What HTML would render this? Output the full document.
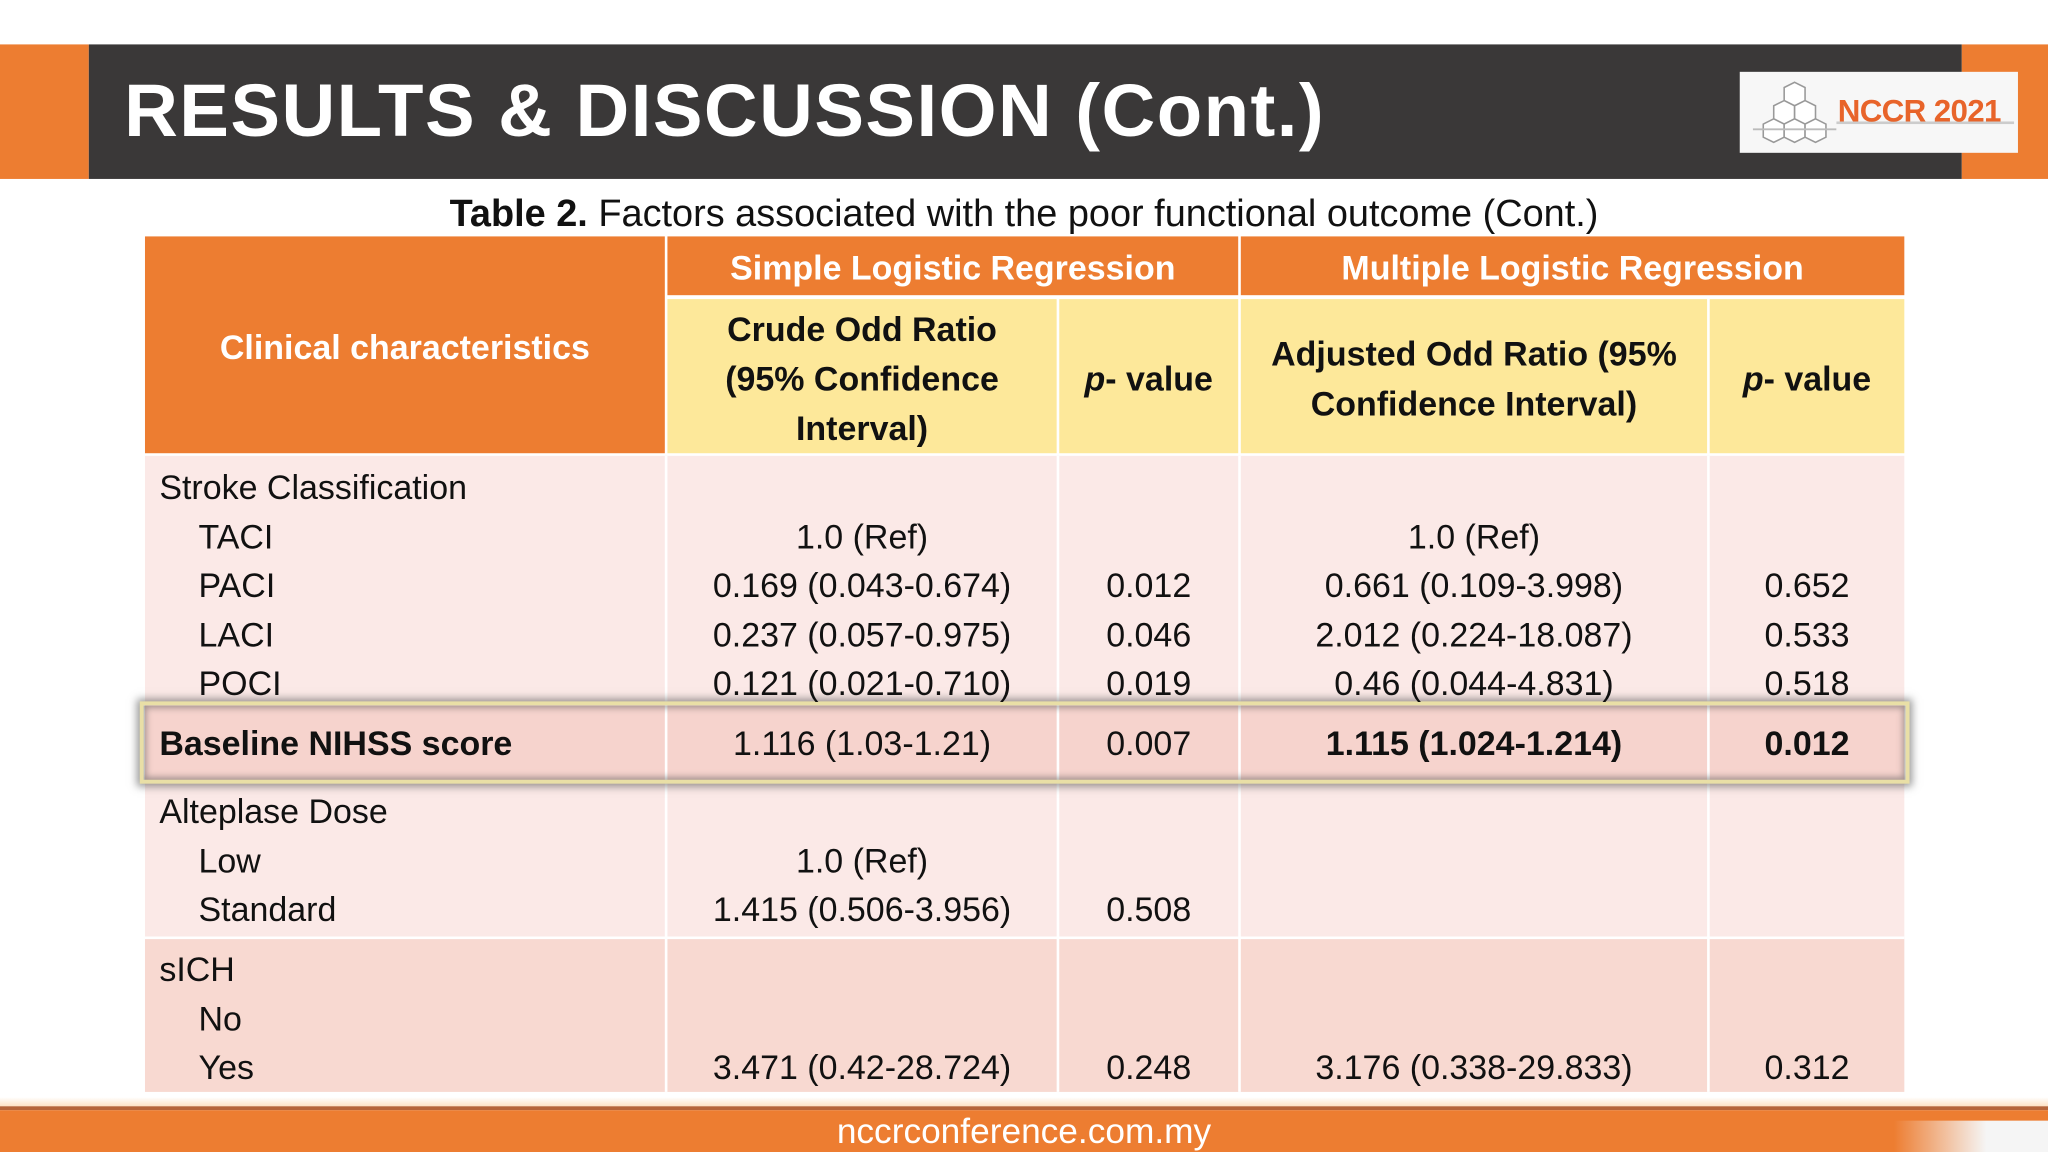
<!DOCTYPE html>
<html><head><meta charset="utf-8"><style>
html,body{margin:0;padding:0;width:2048px;height:1152px;overflow:hidden;background:#fff}
#stage{position:absolute;left:0;top:0;width:1568px;height:882px;transform:scale(1.306122);transform-origin:0 0;font-family:"Liberation Sans",sans-serif}
.a{position:absolute}
.t{position:absolute;height:30px;line-height:30px;font-size:26px;color:#111;white-space:nowrap}
.c{text-align:center}
.hw{color:#fff;font-weight:bold;font-size:26px}
.hb{color:#111;font-weight:bold;font-size:26px}
</style></head><body>
<div id="stage">
<div class="a" style="left:0;top:34px;width:68px;height:103px;background:#ed7d31"></div>
<div class="a" style="left:68px;top:34px;width:1434px;height:103px;background:#3a3838"></div>
<div class="a" style="left:1502px;top:34px;width:66px;height:103px;background:#ed7d31"></div>
<div class="t" style="left:95px;top:55px;height:60px;line-height:60px;font-size:57px;font-weight:bold;color:#fff;letter-spacing:1.1px">RESULTS &amp; DISCUSSION (Cont.)</div>
<div class="a" style="left:1332px;top:55px;width:213px;height:62px;background:#f7f7f7">
  <svg class="a" style="left:10px;top:4px" width="64" height="52"><g fill="#fff" stroke="#999" stroke-width="1.2"><polygon points="32,4 40,8 40,18 32,22 24,18 24,8"/><polygon points="24,18 32,22 32,32 24,36 16,32 16,22"/><polygon points="40,18 48,22 48,32 40,36 32,32 32,22"/><polygon points="16,32 24,36 24,46 16,50 8,46 8,36"/><polygon points="32,32 40,36 40,46 32,50 24,46 24,36"/><polygon points="48,32 56,36 56,46 48,50 40,46 40,36"/></g><line x1="0" y1="40" x2="64" y2="40" stroke="#bbb" stroke-width="1.5"/></svg>
  <div class="a" style="left:74px;top:38px;width:136px;height:2px;background:#ccc"></div>
  <div class="t" style="left:75px;top:16px;font-size:24px;font-weight:bold;color:#e8642a;letter-spacing:-0.5px">NCCR 2021</div>
</div>
<div class="t c" style="left:0;width:1568px;top:149px;font-size:29px"><b>Table 2.</b> Factors associated with the poor functional outcome (Cont.)</div>

<!-- header -->
<div class="a" style="left:111px;top:181px;width:398px;height:166px;background:#ed7d31"></div>
<div class="t c hw" style="left:111px;width:398px;top:251px">Clinical characteristics</div>
<div class="a" style="left:511px;top:181px;width:437px;height:45px;background:#ed7d31"></div>
<div class="t c hw" style="left:511px;width:437px;top:190px">Simple Logistic Regression</div>
<div class="a" style="left:950px;top:181px;width:508px;height:45px;background:#ed7d31"></div>
<div class="t c hw" style="left:950px;width:508px;top:190px">Multiple Logistic Regression</div>
<div class="a" style="left:511px;top:229px;width:298px;height:118px;background:#fde89a"></div>
<div class="a" style="left:811px;top:229px;width:137px;height:118px;background:#fde89a"></div>
<div class="a" style="left:950px;top:229px;width:357px;height:118px;background:#fde89a"></div>
<div class="a" style="left:1309px;top:229px;width:149px;height:118px;background:#fde89a"></div>
<div class="t c hb" style="left:511px;width:298px;top:237px">Crude Odd Ratio</div>
<div class="t c hb" style="left:511px;width:298px;top:275px">(95% Confidence</div>
<div class="t c hb" style="left:511px;width:298px;top:313px">Interval)</div>
<div class="t c hb" style="left:811px;width:137px;top:275px"><i>p</i>- value</div>
<div class="t c hb" style="left:950px;width:357px;top:256px">Adjusted Odd Ratio (95%</div>
<div class="t c hb" style="left:950px;width:357px;top:294px">Confidence Interval)</div>
<div class="t c hb" style="left:1309px;width:149px;top:275px"><i>p</i>- value</div>

<!-- body backgrounds -->
<div class="a" style="left:111px;top:349px;width:1347px;height:191px;background:#fbe9e7"></div>
<div class="a" style="left:111px;top:540px;width:1347px;height:60px;background:#f6d3cd"></div>
<div class="a" style="left:111px;top:600px;width:1347px;height:118px;background:#fbe9e7"></div>
<div class="a" style="left:111px;top:718px;width:1347px;height:118px;background:#f8d9d1"></div>
<div class="a" style="left:111px;top:717px;width:1347px;height:2px;background:#fff"></div>
<div class="a" style="left:509px;top:349px;width:2px;height:487px;background:#fff"></div>
<div class="a" style="left:809px;top:349px;width:2px;height:487px;background:#fff"></div>
<div class="a" style="left:948px;top:349px;width:2px;height:487px;background:#fff"></div>
<div class="a" style="left:1307px;top:349px;width:2px;height:487px;background:#fff"></div>
<div class="a" style="left:107px;top:537px;width:1349px;height:57px;border:3px solid #e9dfa6;box-shadow:0 0 6px 2px rgba(80,80,80,.6), inset 0 0 5px 2px rgba(80,80,80,.5)"></div>

<!-- body text -->
<div class="t" style="left:122px;top:358px">Stroke Classification</div>
<div class="t" style="left:152px;top:396px">TACI</div>
<div class="t c" style="left:511px;width:298px;top:396px">1.0 (Ref)</div>
<div class="t c" style="left:950px;width:357px;top:396px">1.0 (Ref)</div>
<div class="t" style="left:152px;top:433px">PACI</div>
<div class="t c" style="left:511px;width:298px;top:433px">0.169 (0.043-0.674)</div>
<div class="t c" style="left:811px;width:137px;top:433px">0.012</div>
<div class="t c" style="left:950px;width:357px;top:433px">0.661 (0.109-3.998)</div>
<div class="t c" style="left:1309px;width:149px;top:433px">0.652</div>
<div class="t" style="left:152px;top:471px">LACI</div>
<div class="t c" style="left:511px;width:298px;top:471px">0.237 (0.057-0.975)</div>
<div class="t c" style="left:811px;width:137px;top:471px">0.046</div>
<div class="t c" style="left:950px;width:357px;top:471px">2.012 (0.224-18.087)</div>
<div class="t c" style="left:1309px;width:149px;top:471px">0.533</div>
<div class="t" style="left:152px;top:508px">POCI</div>
<div class="t c" style="left:511px;width:298px;top:508px">0.121 (0.021-0.710)</div>
<div class="t c" style="left:811px;width:137px;top:508px">0.019</div>
<div class="t c" style="left:950px;width:357px;top:508px">0.46 (0.044-4.831)</div>
<div class="t c" style="left:1309px;width:149px;top:508px">0.518</div>

<div class="t" style="left:122px;top:554px;font-weight:bold">Baseline NIHSS score</div>
<div class="t c" style="left:511px;width:298px;top:554px">1.116 (1.03-1.21)</div>
<div class="t c" style="left:811px;width:137px;top:554px">0.007</div>
<div class="t c" style="left:950px;width:357px;top:554px;font-weight:bold">1.115 (1.024-1.214)</div>
<div class="t c" style="left:1309px;width:149px;top:554px;font-weight:bold">0.012</div>

<div class="t" style="left:122px;top:606px">Alteplase Dose</div>
<div class="t" style="left:152px;top:644px">Low</div>
<div class="t c" style="left:511px;width:298px;top:644px">1.0 (Ref)</div>
<div class="t" style="left:152px;top:681px">Standard</div>
<div class="t c" style="left:511px;width:298px;top:681px">1.415 (0.506-3.956)</div>
<div class="t c" style="left:811px;width:137px;top:681px">0.508</div>

<div class="t" style="left:122px;top:727px">sICH</div>
<div class="t" style="left:152px;top:765px">No</div>
<div class="t" style="left:152px;top:802px">Yes</div>
<div class="t c" style="left:511px;width:298px;top:802px">3.471 (0.42-28.724)</div>
<div class="t c" style="left:811px;width:137px;top:802px">0.248</div>
<div class="t c" style="left:950px;width:357px;top:802px">3.176 (0.338-29.833)</div>
<div class="t c" style="left:1309px;width:149px;top:802px">0.312</div>

<!-- footer -->
<div class="a" style="left:0;top:840px;width:1568px;height:7px;background:linear-gradient(#fff,#fde1c4)"></div>
<div class="a" style="left:0;top:847px;width:1568px;height:3px;background:#b5643a"></div>
<div class="a" style="left:0;top:850px;width:1568px;height:32px;background:#ed7d31"></div>
<div class="a" style="left:1450px;top:858px;width:118px;height:24px;background:linear-gradient(90deg,#ed7d31,#f5f5f5 60%)"></div>
<div class="t c" style="left:0;width:1568px;top:851px;font-size:27px;color:#fff">nccrconference.com.my</div>
</div>
</body></html>
